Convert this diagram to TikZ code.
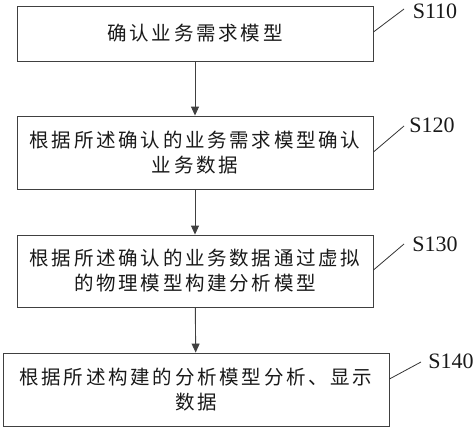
\documentclass[tikz,border=0pt]{standalone}
\usepackage{fontspec}
\newfontfamily\cjk[LetterSpace=14]{Noto Sans CJK SC}
\newfontfamily\lab{Liberation Serif}
\usetikzlibrary{arrows.meta}
\begin{document}
\begin{tikzpicture}[x=1pt,y=-1pt,
  stepbox/.style={draw=black!75,line width=0.9pt,inner sep=0pt,align=center,
    font=\cjk\fontsize{19.5}{25}\selectfont,text=black!90},
  arr/.style={draw=black!75,line width=0.9pt,-{Triangle[length=9pt,width=8pt]}},
  lead/.style={draw=black!80,line width=0.8pt},
  lbl/.style={font=\lab\fontsize{22}{24}\selectfont,inner sep=0pt,text=black!90}]
\useasboundingbox (0,0) rectangle (474,428);
\node[stepbox,minimum width=356pt,minimum height=55pt] (b1) at (195,33.5) {确认业务需求模型};
\node[stepbox,minimum width=356pt,minimum height=73pt] (b2) at (195,152.5) {根据所述确认的业务需求模型确认\\业务数据};
\node[stepbox,minimum width=356pt,minimum height=72pt] (b3) at (195,271) {根据所述确认的业务数据通过虚拟\\的物理模型构建分析模型};
\node[stepbox,minimum width=386pt,minimum height=73pt] (b4) at (196,389.5) {根据所述构建的分析模型分析、显示\\数据};
\draw[arr] (b1) -- (b2);
\draw[arr] (b2) -- (b3);
\draw[arr] (b3) -- (b4);
\node[lbl] (l1) at (435,11) {S110};
\node[lbl] (l2) at (432,125) {S120};
\node[lbl] (l3) at (435,244) {S130};
\node[lbl] (l4) at (451,361) {S140};
\coordinate (c1) at (404,9);
\coordinate (c2) at (404,126);
\coordinate (c3) at (404,244);
\coordinate (c4) at (421,362);
\draw[lead] (b1.east |- 0,32) -- (c1);
\draw[lead] (b2.east |- 0,152) -- (c2);
\draw[lead] (b3.east |- 0,270) -- (c3);
\draw[lead] (b4.east |- 0,379) -- (c4);
\end{tikzpicture}
\end{document}
